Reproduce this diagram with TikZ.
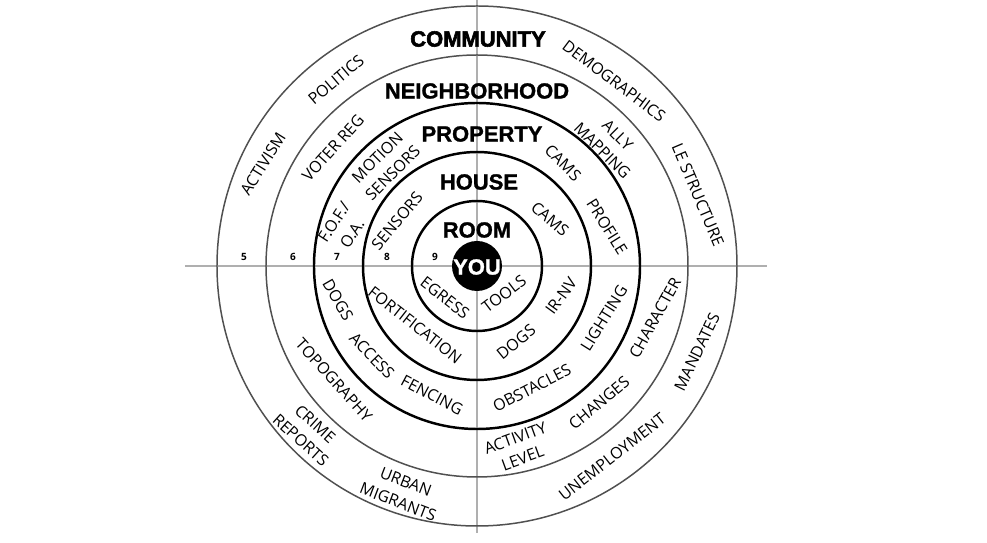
\documentclass[tikz,border=0pt]{standalone}
\usepackage{fontspec}
\setsansfont{Open Sans}
\newfontfamily\headfont{Liberation Sans Bold}[FakeBold=1.2]
\newfontfamily\heavyfont{Liberation Sans Bold}[FakeBold=2.6]
\usepackage{tikz}
\usetikzlibrary{positioning}
\definecolor{axisgray}{RGB}{175,175,175}
\definecolor{ringgray}{RGB}{80,80,80}

\begin{document}
\begin{tikzpicture}[
    ring/.style={draw=black, line width=1.4pt},
    outerring/.style={draw=ringgray, line width=0.85pt},
    axis/.style={draw=axisgray, line width=0.85pt},
    heading/.style={font=\headfont\fontsize{12.5}{14}\selectfont, inner sep=0pt},
    word/.style={font=\sffamily\fontsize{9.1}{12.3}\selectfont, align=center, inner sep=0pt},
    num/.style={font=\sffamily\bfseries\fontsize{5.7}{6}\selectfont, inner sep=0pt}
]
\useasboundingbox (-9.54,-5.54) rectangle (10.2,5.32);

% cross
\draw[axis] (-5.84,0) -- (5.8,0);
\draw[axis] (0,5.32) -- (0,-5.34);

% rings
\draw[outerring] (0,0) circle (5.2);
\draw[outerring] (0,0) circle (4.22);
\draw[ring] (0,0) circle (3.26);
\draw[ring] (0,0) circle (2.28);
\draw[ring] (0,0) circle (1.3);
\fill[black] (0,0) circle (0.5);

% levels
\node[heading, font=\heavyfont\fontsize{12.5}{14}\selectfont] (community) at (0.02,4.54) {COMMUNITY};
\node[heading] (neighborhood) at (0,3.5) {NEIGHBORHOOD};
\node[heading] (property) at (0.1,2.64) {PROPERTY};
\node[heading] (house) at (0.04,1.68) {HOUSE};
\node[heading] (room) at (0,0.72) {ROOM};
\node[heading, text=white] (you) at (0,-0.02) {YOU};

\node[num] (n5) at (-4.66,0.18) {5};
\node[num] (n6) at (-3.68,0.18) {6};
\node[num] (n7) at (-2.8,0.18) {7};
\node[num] (n8) at (-1.8,0.18) {8};
\node[num] (n9) at (-0.84,0.18) {9};

% upper left
\node[word, rotate=58] (activism) at (-4.28,2.04) {ACTIVISM};
\node[word, rotate=40] (politics) at (-2.82,3.72) {POLITICS};
\node[word, rotate=48] (voterreg) at (-2.88,2.36) {VOTER REG};
\node[word, rotate=45] (motion) at (-1.84,2.02) {MOTION\\SENSORS};
\node[word, rotate=57] (fof) at (-2.68,0.76) {F.O.F./\\O.A.};
\node[word, rotate=50] (sensors) at (-1.6,0.9) {SENSORS};

% upper right
\node[word, rotate=-37] (demographics) at (2.74,3.7) {DEMOGRAPHICS};
\node[word, rotate=-45] (ally) at (2.66,2.46) {ALLY\\MAPPING};
\node[word, rotate=-67] (lestructure) at (4.42,1.42) {LE STRUCTURE};
\node[word, rotate=-45] (camsout) at (1.72,2.06) {CAMS};
\node[word, rotate=-41] (camsin) at (1.46,0.94) {CAMS};
\node[word, rotate=-58] (profile) at (2.6,0.78) {PROFILE};

% lower left
\node[word, rotate=-38] (egress) at (-0.64,-0.64) {EGRESS};
\node[word, rotate=-38] (fortification) at (-1.24,-1.18) {FORTIFICATION};
\node[word, rotate=-60] (dogsleft) at (-2.78,-0.68) {DOGS};
\node[word, rotate=-46] (access) at (-2.1,-1.8) {ACCESS};
\node[word, rotate=-28] (fencing) at (-0.9,-2.58) {FENCING};
\node[word, rotate=-48] (topography) at (-2.86,-2.28) {TOPOGRAPHY};
\node[word, rotate=-42] (crime) at (-3.38,-3.32) {CRIME\\REPORTS};
\node[word, rotate=-21] (urban) at (-1.5,-4.52) {URBAN\\MIGRANTS};

% lower right
\node[word, rotate=37] (tools) at (0.54,-0.56) {TOOLS};
\node[word, rotate=54] (irnv) at (1.68,-0.6) {IR-NV};
\node[word, rotate=39] (dogsright) at (0.78,-1.52) {DOGS};
\node[word, rotate=58] (lighting) at (2.54,-1.04) {LIGHTING};
\node[word, rotate=27] (obstacles) at (1.1,-2.44) {OBSTACLES};
\node[word, rotate=61] (character) at (3.56,-1.04) {CHARACTER};
\node[word, rotate=40] (changes) at (2.44,-2.74) {CHANGES};
\node[word, rotate=20] (activity) at (0.84,-3.64) {ACTIVITY\\LEVEL};
\node[word, rotate=64] (mandates) at (4.4,-1.72) {MANDATES};
\node[word, rotate=38] (unemployment) at (2.7,-3.82) {UNEMPLOYMENT};
\end{tikzpicture}
\end{document}
